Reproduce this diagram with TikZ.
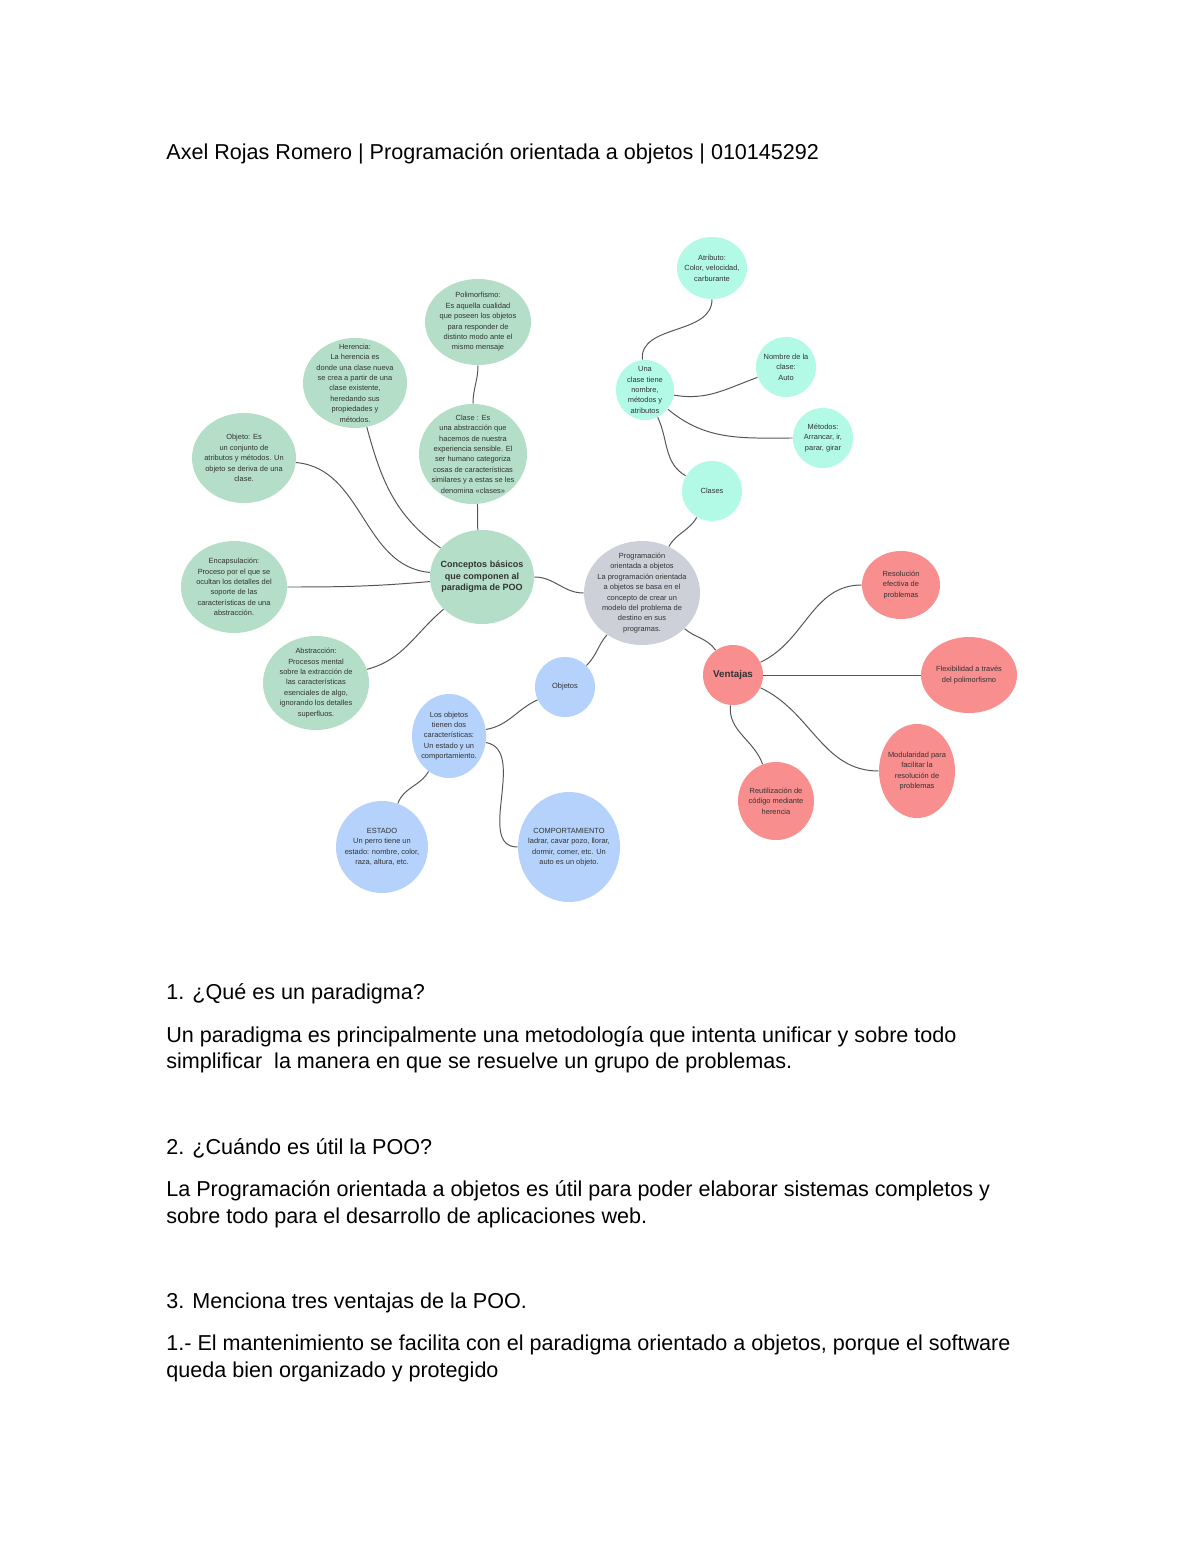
\documentclass[tikz,border=0pt]{standalone}
\usepackage{fontspec}
\setmainfont{Liberation Sans}
\usetikzlibrary{shapes.geometric}
\definecolor{cgreen}{HTML}{B4DEC8}
\definecolor{cgray}{HTML}{CDD0D8}
\definecolor{ccyan}{HTML}{B2FAE6}
\definecolor{cred}{HTML}{F88E8E}
\definecolor{cblue}{HTML}{B4D2FB}
\definecolor{txt}{HTML}{333333}
\definecolor{lnk}{HTML}{555555}
\begin{document}
\begin{tikzpicture}[x=0.51pt,y=-0.51pt,
  bub/.style 2 args={ellipse, inner sep=0pt, minimum width=#1*1.02pt, minimum height=#2*1.02pt},
  lt/.style={align=center, text=txt, inner sep=0pt, font=\fontsize{3.8}{5.3}\selectfont},
  ltb/.style={align=center, text=txt, inner sep=0pt, font=\fontsize{4.6}{5.9}\selectfont\bfseries},
  gb/.style 2 args={bub={#1}{#2}, fill=cgreen},
  grb/.style 2 args={bub={#1}{#2}, fill=cgray},
  cb/.style 2 args={bub={#1}{#2}, fill=ccyan},
  rb/.style 2 args={bub={#1}{#2}, fill=cred},
  bb/.style 2 args={bub={#1}{#2}, fill=cblue},
  link/.style={draw=lnk, line width=0.5pt},
  body/.style={anchor=base west, inner sep=0pt, font=\fontsize{11}{13}\selectfont}
]
\fill[white] (0,0) rectangle (1200,1553);
\useasboundingbox (0,0) rectangle (1200,1553);

% header
\node[body] (head) at (166,160) {Axel Rojas Romero | Programación orientada a objetos | 010145292};

% green
\node[gb={53}{43}, label={[lt]center:{Polimorfismo:\\Es aquella cualidad\\que poseen los objetos\\para responder de\\distinto modo ante el\\mismo mensaje}}] (poli) at (478,322) {};
\node[gb={52}{45}, label={[lt]center:{Herencia:\\La herencia es\\donde una clase nueva\\se crea a partir de una\\clase existente,\\heredando sus\\propiedades y\\métodos.}}] (her) at (355,383) {};
\node[gb={52}{45}, label={[lt]center:{Objeto: Es\\un conjunto de\\atributos y métodos. Un\\objeto se deriva de una\\clase.}}] (obj) at (244,458) {};
\node[gb={54}{50}, label={[lt]center:{Clase : Es\\una abstracción que\\hacemos de nuestra\\experiencia sensible. El\\ser humano categoriza\\cosas de características\\similares y a estas se les\\denomina «clases»}}] (clase) at (473,454) {};
\node[gb={52}{47}, label={[ltb]center:{Conceptos básicos\\que componen al\\paradigma de POO}}] (conc) at (482,577) {};
\node[gb={53}{46}, label={[lt]center:{Encapsulación:\\Proceso por el que se\\ocultan los detalles del\\soporte de las\\características de una\\abstracción.}}] (enc) at (234,587) {};
\node[gb={53}{47}, label={[lt]center:{Abstracción:\\Procesos mental\\sobre la extracción de\\las características\\esenciales de algo,\\ignorando los detalles\\superfluos.}}] (abs) at (316,683) {};

% gray
\node[grb={58}{52}, label={[lt]center:{Programación\\orientada a objetos\\La programación orientada\\a objetos se basa en el\\concepto de crear un\\modelo del problema de\\destino en sus\\programas.}}] (prog) at (642,593) {};

% cyan
\node[cb={35}{31}, label={[lt]center:{Atributo:\\Color, velocidad,\\carburante}}] (atr) at (712,268) {};
\node[cb={29}{30}, label={[lt]center:{Una\\clase tiene\\nombre,\\métodos y\\atributos}}] (una) at (645,390) {};
\node[cb={30}{30}, label={[lt]center:{Nombre de la\\clase:\\Auto}}] (nom) at (786,367) {};
\node[cb={30}{30}, label={[lt]center:{Métodos:\\Arrancar, ir,\\parar, girar}}] (met) at (823,438) {};
\node[cb={30}{30}, label={[lt]center:{Clases}}] (clases) at (712,491) {};

% red
\node[rb={30}{30}, label={[ltb, font=\fontsize{5}{6}\selectfont\bfseries]center:{Ventajas}}] (ven) at (733,675) {};
\node[rb={39}{34}, label={[lt]center:{Resolución\\efectiva de\\problemas}}] (res) at (901,585) {};
\node[rb={48}{38}, label={[lt]center:{Flexibilidad a través\\del polimorfismo}}] (flex) at (969,675) {};
\node[rb={38}{47}, label={[lt]center:{Modularidad para\\facilitar la\\resolución de\\problemas}}] (mod) at (917,771) {};
\node[rb={38}{39}, label={[lt]center:{Reutilización de\\código mediante\\herencia}}] (reu) at (776,801) {};

% blue
\node[bb={30}{30}, label={[lt]center:{Objetos}}] (objs) at (565,687) {};
\node[bb={37}{42}, label={[lt]center:{Los objetos\\tienen dos\\características:\\Un estado y un\\comportamiento.}}] (los) at (449,736) {};
\node[bb={46}{46}, label={[lt]center:{ESTADO\\Un perro tiene un\\estado: nombre, color,\\raza, altura, etc.}}] (est) at (382,847) {};
\node[bb={51}{55}, label={[lt]center:{COMPORTAMIENTO\\ladrar, cavar pozo, llorar,\\dormir, comer, etc. Un\\auto es un objeto.}}] (comp) at (569,847) {};

% connectors
\draw[link] (conc) to[out=0,in=180] (prog);
\draw[link] (prog) to[out=60,in=240] (clases);
\draw[link] (clases) to[out=150,in=-65] (una);
\draw[link] (una) to[out=95,in=-90] (atr);
\draw[link] (una) to[out=-10,in=200] (nom);
\draw[link] (una) to[out=-40,in=180] (met);
\draw[link] (prog) to[out=-40,in=125] (ven);
\draw[link] (ven) to[out=25,in=180] (res);
\draw[link] (ven) -- (flex);
\draw[link] (ven) to[out=-25,in=180] (mod);
\draw[link] (ven) to[out=-95,in=110] (reu);
\draw[link] (prog) to[out=-130,in=45] (objs);
\draw[link] (objs) to[out=205,in=10] (los);
\draw[link] (los) to[out=240,in=70] (est);
\draw[link] (los) to[out=-10,in=180] (comp);
\draw[link] (conc) to[out=95,in=-85] (clase);
\draw[link] (clase) to[out=90,in=-90] (poli);
\draw[link] (conc) to[out=145,in=-75] (her);
\draw[link] (conc) to[out=175,in=-5] (obj);
\draw[link] (conc) to[out=185,in=0] (enc);
\draw[link] (conc) to[out=220,in=15] (abs);

% body text
\node[body] (q1) at (166,999) {1. ¿Qué es un paradigma?};
\node[body] (a1a) at (166,1042) {Un paradigma es principalmente una metodología que intenta unificar y sobre todo};
\node[body] (a1b) at (166,1068) {simplificar\ \ la manera en que se resuelve un grupo de problemas.};
\node[body] (q2) at (166,1154) {2. ¿Cuándo es útil la POO?};
\node[body] (a2a) at (166,1196) {La Programación orientada a objetos es útil para poder elaborar sistemas completos y};
\node[body] (a2b) at (166,1223) {sobre todo para el desarrollo de aplicaciones web.};
\node[body] (q3) at (166,1308) {3. Menciona tres ventajas de la POO.};
\node[body] (a3a) at (166,1350) {1.- El mantenimiento se facilita con el paradigma orientado a objetos, porque el software};
\node[body] (a3b) at (166,1377) {queda bien organizado y protegido};
\end{tikzpicture}
\end{document}
